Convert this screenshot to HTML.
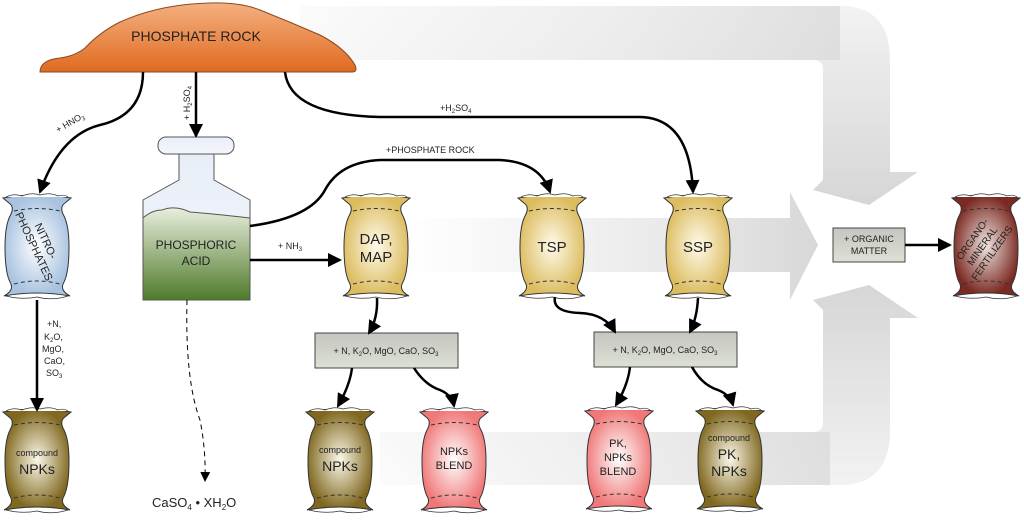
<!DOCTYPE html>
<html><head><meta charset="utf-8"><style>
html,body{margin:0;padding:0;background:#fff;}
svg{display:block;font-family:"Liberation Sans",Arial,sans-serif;}
</style></head><body>
<svg width="1024" height="520" viewBox="0 0 1024 520" xmlns="http://www.w3.org/2000/svg">
<defs>
<linearGradient id="gH" x1="0" x2="1" y1="0" y2="0"><stop offset="0" stop-color="#fff"/><stop offset="0.6" stop-color="#ebebeb"/><stop offset="1" stop-color="#d8d8d8"/></linearGradient>
<linearGradient id="gV" x1="0" x2="0" y1="0" y2="1"><stop offset="0" stop-color="#f2f2f2"/><stop offset="1" stop-color="#d6d6d6"/></linearGradient>
<linearGradient id="gV2" x1="0" x2="0" y1="1" y2="0"><stop offset="0" stop-color="#f2f2f2"/><stop offset="1" stop-color="#d6d6d6"/></linearGradient>
<linearGradient id="rock" x1="0" x2="0" y1="0" y2="1"><stop offset="0" stop-color="#f4b080"/><stop offset="1" stop-color="#e06a20"/></linearGradient>
<linearGradient id="liq" x1="0" x2="0" y1="0" y2="1"><stop offset="0" stop-color="#e8eedc"/><stop offset="1" stop-color="#4e7a2a"/></linearGradient>
<linearGradient id="glass" x1="0" x2="0" y1="0" y2="1"><stop offset="0" stop-color="#e8eef8"/><stop offset="1" stop-color="#f4f6fa"/></linearGradient>
<linearGradient id="box" x1="0" x2="0" y1="0" y2="1"><stop offset="0" stop-color="#c4c6c0"/><stop offset="1" stop-color="#dde0d4"/></linearGradient>
<radialGradient id="yel"><stop offset="0" stop-color="#fffbea"/><stop offset="1" stop-color="#dcbc60"/></radialGradient>
<radialGradient id="blu"><stop offset="0" stop-color="#fff"/><stop offset="1" stop-color="#a8c2e0"/></radialGradient>
<radialGradient id="oli"><stop offset="0" stop-color="#fbf8e8"/><stop offset="1" stop-color="#806820"/></radialGradient>
<radialGradient id="pnk"><stop offset="0" stop-color="#fff"/><stop offset="1" stop-color="#f07878"/></radialGradient>
<radialGradient id="mar"><stop offset="0" stop-color="#f0e4e0"/><stop offset="1" stop-color="#7a2a22"/></radialGradient>
<marker id="ah" markerWidth="10" markerHeight="10" refX="8" refY="5" orient="auto" markerUnits="userSpaceOnUse"><path d="M0,0 L10,5 L0,10 Z" fill="#000"/></marker>
<marker id="ahb" markerWidth="14" markerHeight="14" refX="12" refY="7" orient="auto" markerUnits="userSpaceOnUse"><path d="M0,0 L14,7 L0,14 Z" fill="#000"/></marker>
<g id="bagshape">
<path d="M1,6 Q35,0 69,6 L63,11 Q57,15 62,24 Q67,34 67,55 Q67,80 62,90 Q57,98 68,104 Q35,98 2,104 Q13,98 8,90 Q3,80 3,55 Q3,34 8,24 Q13,15 7,11 Z" stroke="#333" stroke-width="1"/>
<path d="M12,19 Q35,14 58,19 M12,92 Q35,86 58,92" fill="none" stroke="#333" stroke-width="1" stroke-dasharray="4,3"/>
<path d="M4,5 Q12,1 20,4 Q30,0 38,3 Q48,0 56,4 Q62,2 66,5" fill="#fff" stroke="#333" stroke-width="0.7"/>
<path d="M4,104 Q20,108 35,105 Q50,109 66,104" fill="#fff" stroke="#333" stroke-width="0.7"/>
</g>
</defs>

<!-- grey big arrows -->
<path d="M300,6 L840,6 Q890,6 890,60 L890,172 L918,172 L869,205 L813,190 L823,180 L823,70 Q823,60 813,60 L300,60 Z" fill="url(#gV)"/>
<rect x="300" y="6" width="540" height="54" fill="url(#gH)" opacity="0.7"/>
<path d="M400,218 L790,218 L790,192 L818,245 L790,300 L790,272 L400,272 Z" fill="url(#gH)"/>
<path d="M380,432 L813,432 Q823,432 823,422 L823,310 L813,300 L869,285 L918,318 L890,318 L890,430 Q890,485 840,485 L380,485 Z" fill="url(#gV2)"/>
<rect x="380" y="432" width="450" height="53" fill="url(#gH)" opacity="0.7"/>

<!-- phosphate rock -->
<path d="M40,72 Q40,60 60,58 Q75,56 85,48 Q100,32 120,22 Q160,4 210,3 Q240,2 260,10 Q290,22 320,35 Q345,48 355,65 Q358,72 352,72 Z" fill="url(#rock)" stroke="#8a4a20" stroke-width="1"/>
<text x="196" y="41" font-size="14" text-anchor="middle" fill="#222">PHOSPHATE ROCK</text>

<!-- bottle -->
<rect x="158" y="137" width="76" height="17" rx="8" fill="url(#glass)" stroke="#555"/>
<path d="M179,154 L179,180 L143,200 L143,300 L250,300 L250,200 L214,180 L214,154 Z" fill="url(#glass)" stroke="#555"/>
<path d="M143,218 Q152,210 162,210 Q175,205 190,212 Q215,214 250,218 L250,300 L143,300 Z" fill="url(#liq)" stroke="#555"/>
<text x="196" y="249" font-size="12" text-anchor="middle" fill="#222">PHOSPHORIC</text>
<text x="196" y="265" font-size="12" text-anchor="middle" fill="#222">ACID</text>

<!-- bags -->
<g transform="translate(2,192)"><use href="#bagshape" fill="url(#blu)"/></g>
<g transform="translate(341,192)"><use href="#bagshape" fill="url(#yel)"/></g>
<g transform="translate(517,192)"><use href="#bagshape" fill="url(#yel)"/></g>
<g transform="translate(663,192)"><use href="#bagshape" fill="url(#yel)"/></g>
<g transform="translate(951,192)"><use href="#bagshape" fill="url(#mar)"/></g>
<g transform="translate(2,406)"><use href="#bagshape" fill="url(#oli)"/></g>
<g transform="translate(305,406)"><use href="#bagshape" fill="url(#oli)"/></g>
<g transform="translate(419,406)"><use href="#bagshape" fill="url(#pnk)"/></g>
<g transform="translate(584,405)"><use href="#bagshape" fill="url(#pnk)"/></g>
<g transform="translate(695,405)"><use href="#bagshape" fill="url(#oli)"/></g>

<g fill="#222" text-anchor="middle">
<text transform="translate(37,245) rotate(65)" font-size="11"><tspan x="0" y="-6">NITRO-</tspan><tspan x="0" y="7">PHOSPHATES</tspan></text>
<text x="376" y="244" font-size="15">DAP,</text><text x="376" y="262" font-size="15">MAP</text>
<text x="552" y="252" font-size="15">TSP</text>
<text x="698" y="252" font-size="15">SSP</text>
<text transform="translate(985,248) rotate(-55)" font-size="10"><tspan x="0" y="-12">ORGANO-</tspan><tspan x="0" y="0">MINERAL</tspan><tspan x="0" y="12">FERTILIZERS</tspan></text>
<text x="37" y="456" font-size="9">compound</text><text x="37" y="474" font-size="14">NPKs</text>
<text x="340" y="453" font-size="9">compound</text><text x="340" y="471" font-size="14">NPKs</text>
<text x="454" y="455" font-size="11">NPKs</text><text x="454" y="469" font-size="11">BLEND</text>
<text x="618" y="447" font-size="11">PK,</text><text x="618" y="461" font-size="11">NPKs</text><text x="618" y="475" font-size="11">BLEND</text>
<text x="729" y="441" font-size="9">compound</text><text x="729" y="459" font-size="14">PK,</text><text x="729" y="476" font-size="14">NPKs</text>
</g>

<!-- grey boxes -->
<rect x="315" y="333" width="143" height="35" fill="url(#box)" stroke="#444"/>
<text x="386" y="354" font-size="9" text-anchor="middle" fill="#222">+ N, K<tspan font-size="6" dy="2">2</tspan><tspan dy="-2">O, MgO, CaO, SO</tspan><tspan font-size="6" dy="2">3</tspan></text>
<rect x="594" y="332" width="143" height="35" fill="url(#box)" stroke="#444"/>
<text x="665" y="353" font-size="9" text-anchor="middle" fill="#222">+ N, K<tspan font-size="6" dy="2">2</tspan><tspan dy="-2">O, MgO, CaO, SO</tspan><tspan font-size="6" dy="2">3</tspan></text>
<rect x="833" y="228" width="72" height="34" fill="url(#box)" stroke="#444"/>
<text x="869" y="242" font-size="9" text-anchor="middle" fill="#222">+ ORGANIC</text>
<text x="869" y="254" font-size="9" text-anchor="middle" fill="#222">MATTER</text>

<!-- connectors -->
<g fill="none" stroke="#000" stroke-width="2.5">
<path d="M143,72 Q143,115 100,125 Q60,135 40,192" marker-end="url(#ahb)"/>
<path d="M196,72 L196,136" marker-end="url(#ahb)"/>
<path d="M285,72 Q290,115 380,117 L640,117 Q690,118 693,192" marker-end="url(#ahb)"/>
<path d="M250,226 Q310,218 325,190 Q340,162 380,160 L500,160 Q540,162 550,192" marker-end="url(#ahb)"/>
<path d="M250,260 L340,260" marker-end="url(#ahb)"/>
<path d="M37,300 L37,410" marker-end="url(#ahb)"/>
<path d="M377,298 Q378,318 369,333" marker-end="url(#ahb)"/>
<path d="M555,297 Q552,312 580,313 Q605,314 615,332" marker-end="url(#ahb)"/>
<path d="M698,298 Q697,318 690,332" marker-end="url(#ahb)"/>
<path d="M352,368 Q350,385 338,406" marker-end="url(#ahb)"/>
<path d="M414,368 Q425,385 440,390 Q452,395 454,406" marker-end="url(#ahb)"/>
<path d="M630,367 Q628,385 616,405" marker-end="url(#ahb)"/>
<path d="M692,367 Q702,385 718,390 Q730,395 733,405" marker-end="url(#ahb)"/>
<path d="M905,245 L950,245" marker-end="url(#ahb)"/>
</g>
<path d="M187,300 Q185,380 200,420 Q206,450 205,480" fill="none" stroke="#000" stroke-width="1" stroke-dasharray="5,4" marker-end="url(#ah)"/>

<!-- labels -->
<g fill="#222" font-size="9">
<text transform="translate(58,133) rotate(-30)">+ HNO<tspan font-size="6" dy="2">3</tspan></text>
<text transform="translate(190,120) rotate(-90)">+ H<tspan font-size="6" dy="2">2</tspan><tspan dy="-2">SO</tspan><tspan font-size="6" dy="2">4</tspan></text>
<text x="440" y="111">+H<tspan font-size="6" dy="2">2</tspan><tspan dy="-2">SO</tspan><tspan font-size="6" dy="2">4</tspan></text>
<text x="386" y="153">+PHOSPHATE ROCK</text>
<text x="278" y="249">+ NH<tspan font-size="6" dy="2">3</tspan></text>
<text x="47" y="327">+N,</text>
<text x="44" y="340">K<tspan font-size="6" dy="2">2</tspan><tspan dy="-2">O,</tspan></text>
<text x="42" y="352">MgO,</text>
<text x="44" y="364">CaO,</text>
<text x="46" y="376">SO<tspan font-size="6" dy="2">3</tspan></text>
</g>
<text x="152" y="507" font-size="13" fill="#222">CaSO<tspan font-size="8" dy="3">4</tspan><tspan dy="-3"> • XH</tspan><tspan font-size="8" dy="3">2</tspan><tspan dy="-3">O</tspan></text>
</svg>
</body></html>
